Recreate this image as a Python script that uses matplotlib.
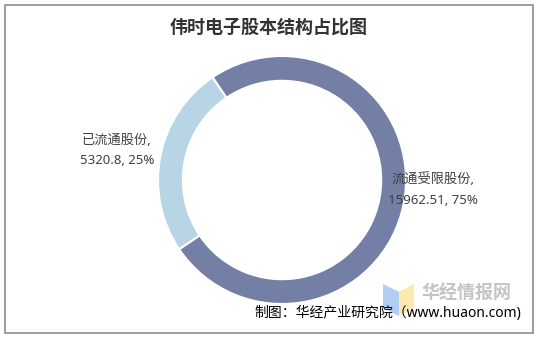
import matplotlib
matplotlib.use('Agg')
import matplotlib.pyplot as plt
from matplotlib.patches import Rectangle, Polygon

plt.rcParams['font.family'] = ['Noto Sans', 'Noto Sans CJK SC', 'DejaVu Sans']

title = '伟时电子股本结构占比图'
labels = ['已流通股份', '流通受限股份']
values = [5320.8, 15962.51]
percents = ['25%', '75%']
colors = ['#b7d5e5', '#737fa5']
source = '制图：华经产业研究院（www.huaon.com)'

W, H = 538, 340
fig = plt.figure(figsize=(W / 100, H / 100), dpi=100)


def fx(x):
    return x / W


def fy(y):
    return 1 - y / H


# outer frame
fig.patches.append(Rectangle((fx(5), fy(333)), fx(528), 328 / H, transform=fig.transFigure,
                             fill=False, edgecolor='#8c8c8c', linewidth=1.2))

fig.text(fx(269), fy(27), title, ha='center', va='center', fontsize=13,
         fontweight='bold', color='#333333', family=['Noto Sans CJK SC'])

# donut
cx, cy, r = 282, 180, 124
ax = fig.add_axes([fx(cx - r), fy(cy + r), 2 * r / W, 2 * r / H])
ax.pie(values, colors=colors, startangle=124, counterclock=True, radius=1,
       wedgeprops=dict(width=0.2, edgecolor='white', linewidth=1.5))
ax.set_xlim(-1, 1)
ax.set_ylim(-1, 1)
ax.set_aspect('equal')
ax.axis('off')

# data labels
fig.text(fx(117), fy(140), labels[0] + ',', ha='center', va='center', fontsize=9.5, color='#404040')
fig.text(fx(117), fy(160), f'{values[0]}, {percents[0]}', ha='center', va='center',
         fontsize=9.5, color='#404040')
fig.text(fx(433), fy(179), labels[1] + ',', ha='center', va='center', fontsize=9.5, color='#404040')
fig.text(fx(433), fy(200), f'{values[1]}, {percents[1]}', ha='center', va='center',
         fontsize=9.5, color='#404040')

# watermark logo
fig.patches.append(Polygon([(fx(383), fy(284)), (fx(399), fy(292)), (fx(399), fy(316)),
                            (fx(383), fy(308))], closed=True, transform=fig.transFigure,
                           facecolor='#a9c8f0', edgecolor='none', alpha=0.9))
fig.patches.append(Polygon([(fx(399), fy(292)), (fx(414), fy(284)), (fx(414), fy(308)),
                            (fx(399), fy(316))], closed=True, transform=fig.transFigure,
                           facecolor='#fbe7a6', edgecolor='none', alpha=0.9))
fig.text(fx(466), fy(293), '华经情报网', ha='center', va='center', fontsize=13,
         fontweight='bold', color='#c4c4c4', family=['Noto Sans CJK SC'])

fig.text(fx(521), fy(313), source, ha='right', va='center', fontsize=10, color='black')

fig.savefig('out.png', dpi=100)
